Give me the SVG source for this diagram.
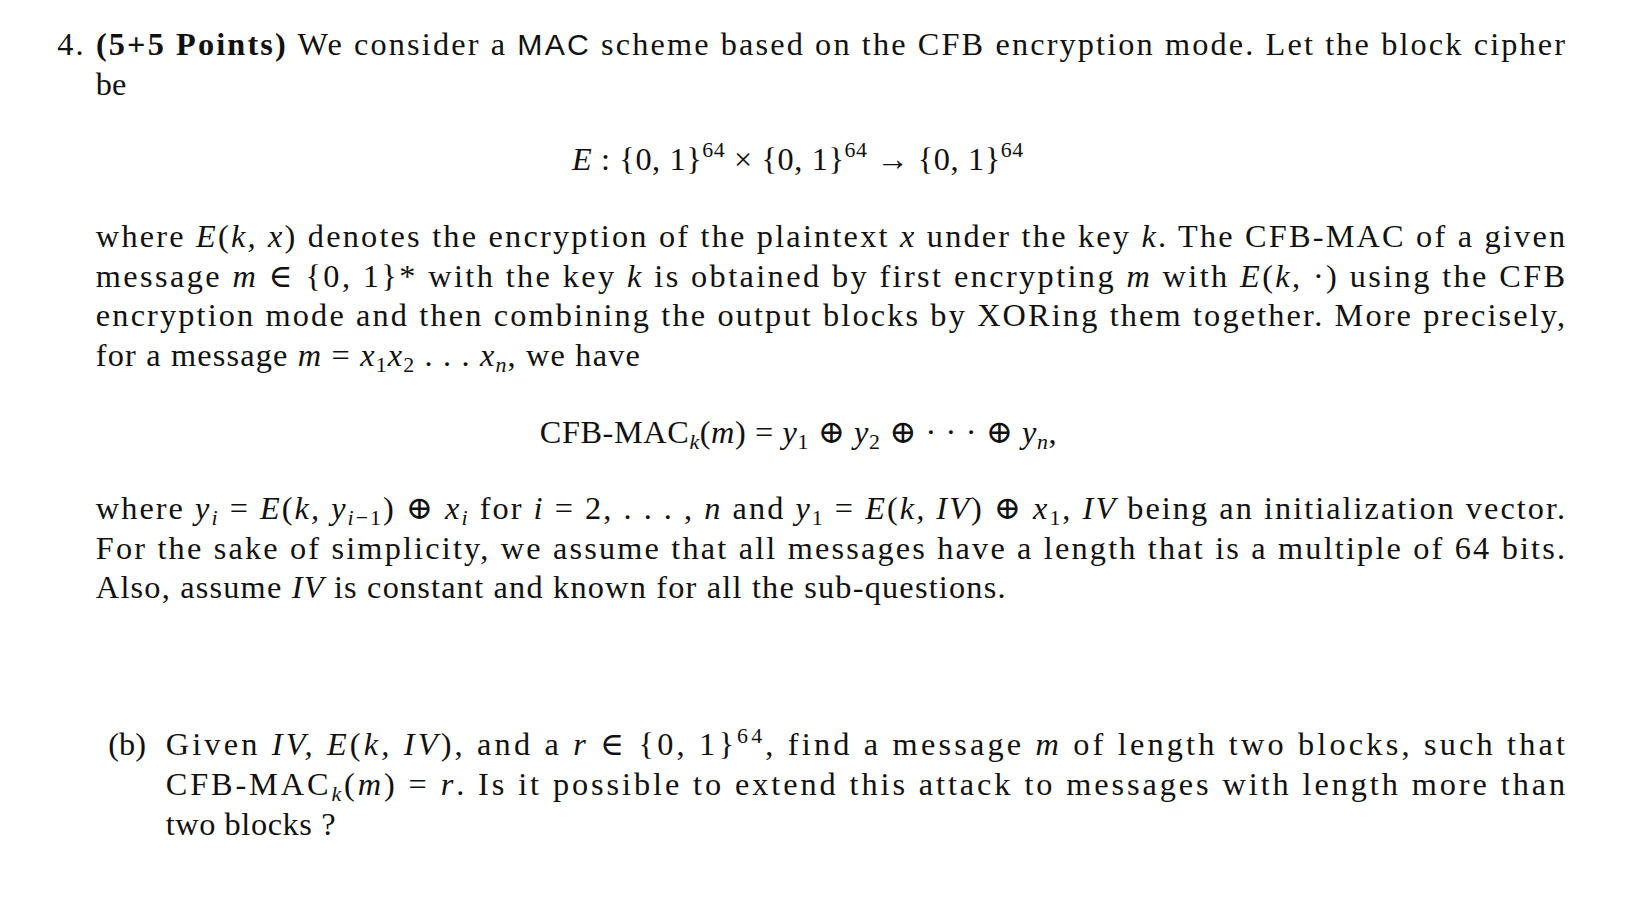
<svg xmlns="http://www.w3.org/2000/svg" width="1634" height="910" viewBox="0 0 1634 910">
<style>
text{font-family:"Liberation Serif","DejaVu Serif",serif;font-size:31px;fill:#111}
.i{font-style:italic}
.s{font-family:"Liberation Sans",Arial,sans-serif;font-size:29px}
.b{font-weight:bold}
.sub{font-size:21px}
</style>
<rect width="1634" height="910" fill="#fff"/>
<g transform="scale(1.042)">
<text x="55" y="53" textLength="1447" lengthAdjust="spacing">4.  <tspan class="b">(5+5 Points)</tspan> We consider a <tspan class="s">MAC</tspan> scheme based on the CFB encryption mode. Let the block cipher</text>
<text x="92" y="91">be</text>
<text x="549" y="163" textLength="433" lengthAdjust="spacing"><tspan class="i">E</tspan> : {0, 1}<tspan class="sub" dy="-12">64</tspan><tspan dy="12"> × {0, 1}</tspan><tspan class="sub" dy="-12">64</tspan><tspan dy="12"> → {0, 1}</tspan><tspan class="sub" dy="-12">64</tspan></text>
<text x="92" y="237" textLength="1410" lengthAdjust="spacing">where <tspan class="i">E</tspan>(<tspan class="i">k, x</tspan>) denotes the encryption of the plaintext <tspan class="i">x</tspan> under the key <tspan class="i">k</tspan>. The CFB-MAC of a given</text>
<text x="92" y="275" textLength="1410" lengthAdjust="spacing">message <tspan class="i">m</tspan> ∈ {0, 1}* with the key <tspan class="i">k</tspan> is obtained by first encrypting <tspan class="i">m</tspan> with <tspan class="i">E</tspan>(<tspan class="i">k</tspan>, ·) using the CFB</text>
<text x="92" y="313" textLength="1410" lengthAdjust="spacing">encryption mode and then combining the output blocks by XORing them together. More precisely,</text>
<text x="92" y="351" textLength="522" lengthAdjust="spacing">for a message <tspan class="i">m</tspan> = <tspan class="i">x</tspan><tspan class="sub" dy="6">1</tspan><tspan class="i" dy="-6">x</tspan><tspan class="sub" dy="6">2</tspan><tspan dy="-6"> . . . </tspan><tspan class="i">x</tspan><tspan class="sub i" dy="6">n</tspan><tspan dy="-6">, we have</tspan></text>
<text x="518" y="425" textLength="496" lengthAdjust="spacing">CFB-MAC<tspan class="sub i" dy="6">k</tspan><tspan dy="-6">(</tspan><tspan class="i">m</tspan>) = <tspan class="i">y</tspan><tspan class="sub" dy="6">1</tspan><tspan dy="-6"> ⊕ </tspan><tspan class="i">y</tspan><tspan class="sub" dy="6">2</tspan><tspan dy="-6"> ⊕ · · · ⊕ </tspan><tspan class="i">y</tspan><tspan class="sub i" dy="6">n</tspan><tspan dy="-6">,</tspan></text>
<text x="92" y="498" textLength="1410" lengthAdjust="spacing">where <tspan class="i">y</tspan><tspan class="sub i" dy="6">i</tspan><tspan dy="-6"> = </tspan><tspan class="i">E</tspan>(<tspan class="i">k, y</tspan><tspan class="sub" dy="6"><tspan class="i">i</tspan>−1</tspan><tspan dy="-6">) ⊕ </tspan><tspan class="i">x</tspan><tspan class="sub i" dy="6">i</tspan><tspan dy="-6"> for </tspan><tspan class="i">i</tspan> = 2, . . . , <tspan class="i">n</tspan> and <tspan class="i">y</tspan><tspan class="sub" dy="6">1</tspan><tspan dy="-6"> = </tspan><tspan class="i">E</tspan>(<tspan class="i">k, IV</tspan>) ⊕ <tspan class="i">x</tspan><tspan class="sub" dy="6">1</tspan><tspan dy="-6">, </tspan><tspan class="i">IV</tspan> being an initialization vector.</text>
<text x="92" y="536" textLength="1410" lengthAdjust="spacing">For the sake of simplicity, we assume that all messages have a length that is a multiple of 64 bits.</text>
<text x="92" y="574" textLength="873" lengthAdjust="spacing">Also, assume <tspan class="i">IV</tspan> is constant and known for all the sub-questions.</text>
<text x="104" y="725">(b)</text>
<text x="159" y="725" textLength="1343" lengthAdjust="spacing">Given <tspan class="i">IV, E</tspan>(<tspan class="i">k, IV</tspan>), and a <tspan class="i">r</tspan> ∈ {0, 1}<tspan class="sub" dy="-12">64</tspan><tspan dy="12">, find a message </tspan><tspan class="i">m</tspan> of length two blocks, such that</text>
<text x="159" y="763" textLength="1343" lengthAdjust="spacing">CFB-MAC<tspan class="sub i" dy="6">k</tspan><tspan dy="-6">(</tspan><tspan class="i">m</tspan>) = <tspan class="i">r</tspan>. Is it possible to extend this attack to messages with length more than</text>
<text x="159" y="801" textLength="163" lengthAdjust="spacing">two blocks ?</text>
</g>
</svg>
